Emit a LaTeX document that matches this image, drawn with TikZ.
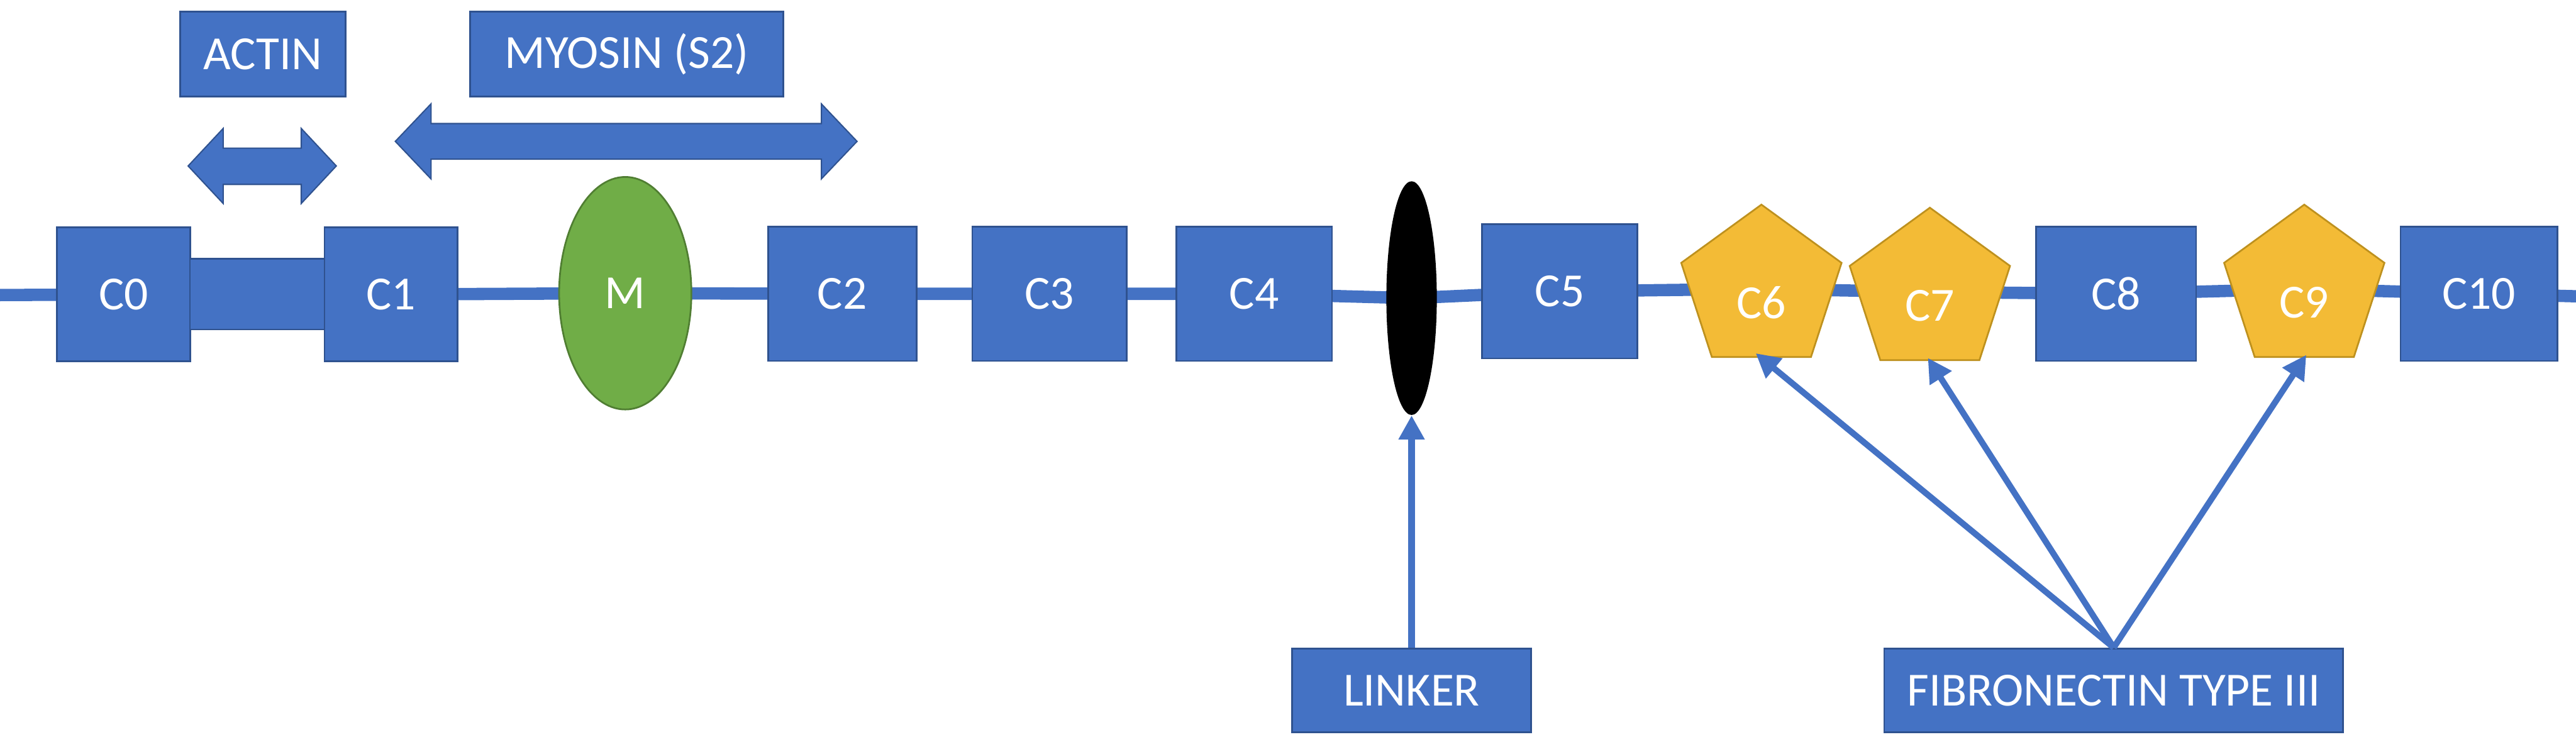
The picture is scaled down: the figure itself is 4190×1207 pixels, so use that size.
\documentclass[tikz,border=0pt]{standalone}
\usepackage{fontspec}
\setmainfont{Carlito}
\usetikzlibrary{shapes.geometric,arrows.meta,backgrounds}
\definecolor{blu}{RGB}{68,114,196}
\definecolor{bluedge}{RGB}{47,82,143}
\definecolor{grn}{RGB}{112,173,71}
\definecolor{grnedge}{RGB}{80,126,50}
\definecolor{gld}{RGB}{243,187,54}
\definecolor{gldedge}{RGB}{190,145,30}
\begin{document}
\begin{tikzpicture}[x=0.01cm,y=-0.01cm,
  txt/.style={text=white,font=\fontsize{22}{26}\selectfont},
  dom/.style={rectangle,fill=blu,draw=bluedge,line width=0.8pt,inner sep=0pt,txt},
  fn3/.style={regular polygon,regular polygon sides=5,minimum size=2.74cm,inner sep=0pt,
    fill=gld,draw=gldedge,line width=0.8pt},
  fnlab/.style={txt,yshift=-0.22cm},
  lab/.style={dom,minimum height=1.38cm},
  backbone/.style={draw=blu,line width=0.2cm},
  pointer/.style={draw=blu,line width=0.10cm,-{Triangle[width=0.40cm,length=0.39cm]}},
  dblarrow/.style={fill=blu,draw=bluedge,line width=0.6pt}]
\useasboundingbox (0,0) rectangle (4190,1207);
\coordinate (Lend) at (0,480);
\coordinate (Rend) at (4190,482);
% domains
\node[dom,minimum width=2.16cm,minimum height=2.18cm] (C0) at (201,479) {C0};
\node[rectangle,fill=blu,draw=bluedge,line width=0.8pt,minimum width=2.19cm,minimum height=1.15cm,inner sep=0pt] (bar) at (418.5,478.5) {};
\node[dom,minimum width=2.16cm,minimum height=2.18cm] (C1) at (636,479) {C1};
\node[ellipse,fill=grn,draw=grnedge,line width=0.8pt,minimum width=2.15cm,minimum height=3.78cm,inner sep=0pt,txt] (M) at (1017,477) {M};
\node[dom,minimum width=2.41cm,minimum height=2.18cm] (C2) at (1370,478) {C2};
\node[dom,minimum width=2.51cm,minimum height=2.18cm] (C3) at (1707,478) {C3};
\node[dom,minimum width=2.53cm,minimum height=2.18cm] (C4) at (2040,478) {C4};
\node[ellipse,fill=black,minimum width=0.82cm,minimum height=3.80cm,inner sep=0pt] (BL) at (2296,485) {};
\node[dom,minimum width=2.53cm,minimum height=2.18cm] (C5) at (2537,474) {C5};
\node[fn3,label={[fnlab]center:C6}] (C6) at (2865,470) {};
\node[fn3,label={[fnlab]center:C7}] (C7) at (3139,475) {};
\node[dom,minimum width=2.60cm,minimum height=2.18cm] (C8) at (3442,478) {C8};
\node[fn3,label={[fnlab]center:C9}] (C9) at (3748,470) {};
\node[dom,minimum width=2.55cm,minimum height=2.18cm] (C10) at (4032,478) {C10};
% labels
\node[lab,minimum width=2.69cm] (ACT) at (427.5,88) {ACTIN};
\node[lab,minimum width=5.09cm] (MYO) at (1019.5,88) {MYOSIN (S2)};
\node[lab,minimum width=3.89cm,minimum height=1.36cm] (LNK) at (2296,1123) {LINKER};
\node[lab,minimum width=7.46cm,minimum height=1.36cm] (FN) at (3438,1123) {FIBRONECTIN TYPE III};
% backbone
\begin{scope}[on background layer]
\draw[backbone] (Lend) -- (C0.center) -- (bar.center) -- (C1.center) -- (M.center) -- (C2.center)
  -- (C3.center) -- (C4.center) -- (BL.center) -- (C5.center) -- (C6.center) -- (C7.center)
  -- (C8.center) -- (C9.center) -- (C10.center) -- (Rend);
\end{scope}
% binding-range double arrows
\draw[dblarrow] (306,270) -- (363,209) -- (363,241) -- (490,241) -- (490,209) -- (547,270)
  -- (490,331) -- (490,300) -- (363,300) -- (363,331) -- cycle;
\draw[dblarrow] (643,230) -- (701,169) -- (701,201) -- (1336,201) -- (1336,169) -- (1394,230)
  -- (1336,291) -- (1336,259) -- (701,259) -- (701,291) -- cycle;
% pointers
\draw[pointer,line width=0.12cm] (LNK.north) -- (BL.south);
\draw[pointer,shorten >=-0.12cm] (FN.north) -- (C6.south);
\draw[pointer,shorten >=-0.06cm] (FN.north) -- (C7.south);
\draw[pointer,shorten >=-0.06cm] (FN.north) -- (C9.south);
\end{tikzpicture}
\end{document}
